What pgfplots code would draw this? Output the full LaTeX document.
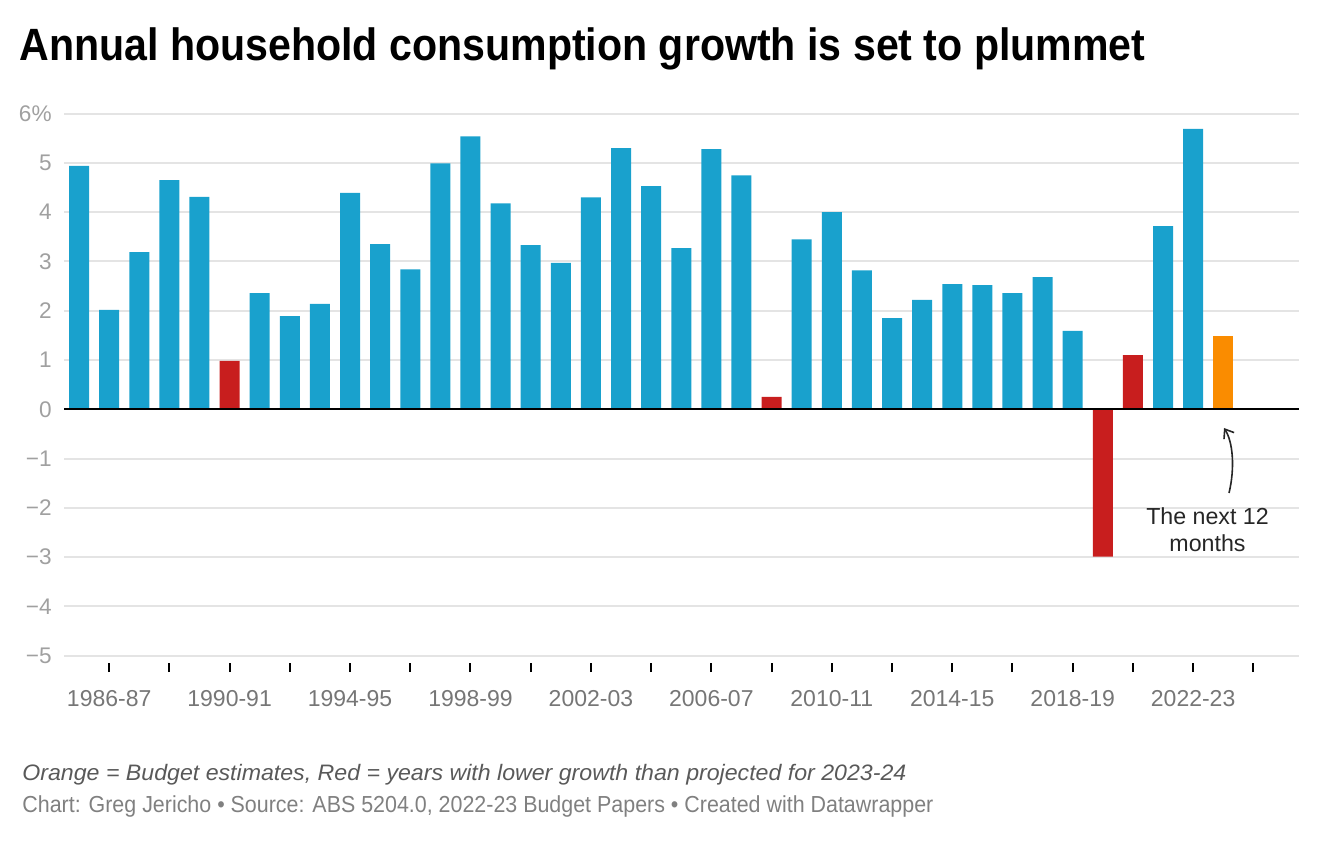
\documentclass[border=0pt]{standalone}
\usepackage{pgfplots}
\pgfplotsset{compat=1.18}
\usepackage{fontspec}
\setmainfont{Liberation Sans}
\usetikzlibrary{arrows.meta}
\definecolor{barblue}{RGB}{25,161,205}
\definecolor{barred}{RGB}{200,30,30}
\definecolor{barorange}{RGB}{250,140,0}
\definecolor{gridgray}{RGB}{228,228,228}
\definecolor{ylab}{RGB}{160,160,160}
\definecolor{xlab}{RGB}{118,118,118}
\begin{document}
\begin{tikzpicture}
\useasboundingbox (0,0) rectangle (660pt,420pt);
% title
\node[anchor=base west, inner sep=0pt] at (9.5pt,389.6pt)
  {\resizebox{563pt}{16.4pt}{\bfseries Annual household consumption growth is set to plummet}};
\begin{axis}[
  at={(32pt,92.2pt)}, anchor=south west,
  scale only axis, width=617.25pt, height=270.95pt,
  xmin=-0.5, xmax=40.5, ymin=-5, ymax=6,
  ybar, bar width=10pt, bar shift=0pt,
  axis x line=bottom, axis y line=left,
  x axis line style={draw=none}, y axis line style={draw=none},
  ytick={-5,-4,...,6},
  yticklabels={−5,−4,−3,−2,−1,0,1,2,3,4,5,6\%},
  ymajorgrids, grid style={gridgray, line width=1pt},
  ytick style={draw=none},
  yticklabel style={font=\fontsize{11.3}{13}\selectfont, text=ylab, anchor=east, inner sep=0pt, xshift=-1.5pt},
  xtick={1,3,...,39},
  xticklabels={1986-87,,1990-91,,1994-95,,1998-99,,2002-03,,2006-07,,2010-11,,2014-15,,2018-19,,2022-23,},
  tick align=outside, major tick length=4.5pt,
  xtick style={black, line width=1pt, yshift=-3.7pt},
  xticklabel style={font=\fontsize{11.5}{13}\selectfont, text=xlab, anchor=north, inner sep=0pt, yshift=-12.5pt},
  clip=false,
]
\addplot[fill=barblue, draw=none] coordinates {
(0,4.94) (1,2.02) (2,3.19) (3,4.65) (4,4.31)
(6,2.36) (7,1.89) (8,2.14) (9,4.39) (10,3.35) (11,2.84) (12,4.99) (13,5.54)
(14,4.18) (15,3.33) (16,2.97) (17,4.30) (18,5.30) (19,4.53) (20,3.27) (21,5.28)
(22,4.75) (24,3.45) (25,4.00) (26,2.82) (27,1.85) (28,2.22) (29,2.54)
(30,2.52) (31,2.36) (32,2.68) (33,1.59) (36,3.72) (37,5.69)
};
\addplot[fill=barred, draw=none] coordinates {
(5,0.98) (23,0.25) (34,-2.99) (35,1.10)
};
\addplot[fill=barorange, draw=none] coordinates {
(38,1.49)
};
\draw[black, line width=1pt] (axis cs:-0.5,0) -- (axis cs:40.5,0);
\end{axis}
% annotation
\draw[line width=0.8pt, black!85, -{Straight Barb[length=4pt, width=6pt]}]
  (614.5pt,173.5pt) .. controls (617.5pt,186pt) and (616.5pt,199pt) .. (612pt,206pt);
\node[anchor=base, inner sep=0pt, text=black!85, font=\fontsize{11.6}{13.5}\selectfont] at (603.75pt,157.5pt) {The next 12};
\node[anchor=base, inner sep=0pt, text=black!85, font=\fontsize{11.6}{13.5}\selectfont] at (603.75pt,144pt) {months};
% footer
\node[anchor=base west, inner sep=0pt, text=black!65] at (11pt,30pt)
  {\resizebox{442pt}{8.1pt}{\itshape Orange = Budget estimates, Red = years with lower growth than projected for 2023-24}};
\node[anchor=base west, inner sep=0pt, text=black!50] at (11pt,14pt)
  {\resizebox{455.5pt}{8.4pt}{Chart: Greg Jericho • Source: ABS 5204.0, 2022-23 Budget Papers • Created with Datawrapper}};
\end{tikzpicture}
\end{document}
